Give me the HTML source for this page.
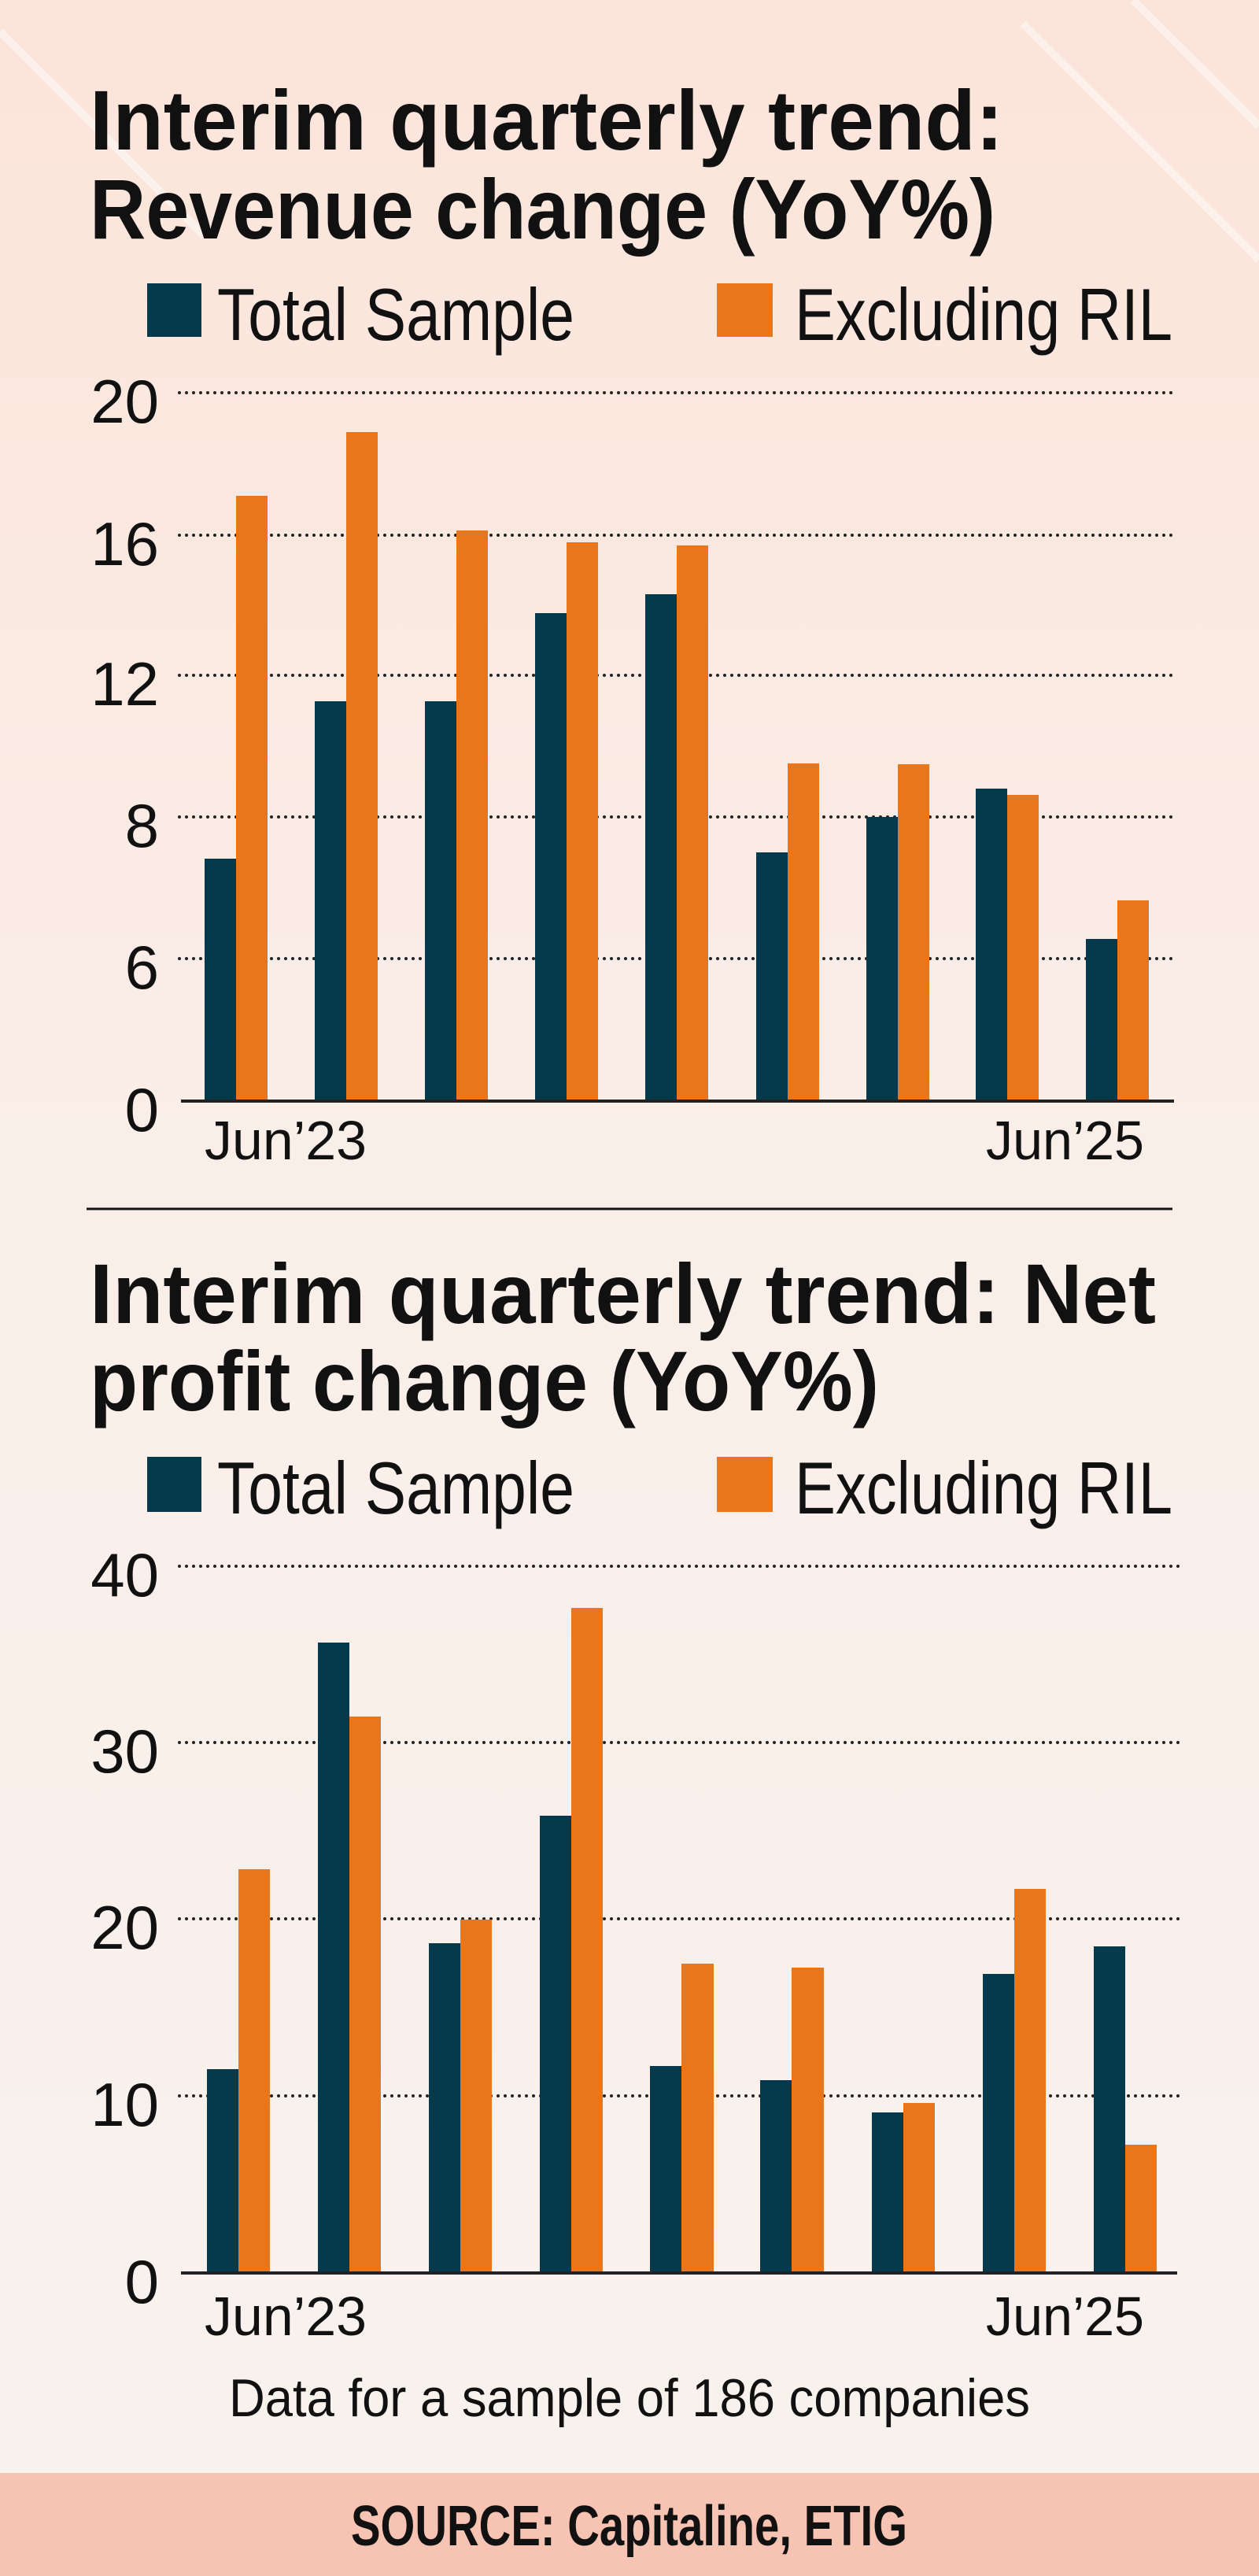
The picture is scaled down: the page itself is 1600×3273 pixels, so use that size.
<!DOCTYPE html>
<html><head><meta charset="utf-8"><style>
html,body{margin:0;padding:0;width:1600px;height:3273px;overflow:hidden;background:#faf1ec}
svg{display:block}
</style></head><body>
<svg width="1600" height="3273" viewBox="0 0 1600 3273" xmlns="http://www.w3.org/2000/svg" font-family="Liberation Sans, sans-serif">
<defs>
<linearGradient id="bg" x1="0" y1="0" x2="0" y2="1">
<stop offset="0" stop-color="#fbe4da"/><stop offset="0.45" stop-color="#faeee8"/><stop offset="1" stop-color="#f8f2ee"/>
</linearGradient>
</defs>
<rect width="1600" height="3273" fill="url(#bg)"/>
<g stroke="#fff" stroke-opacity="0.45" stroke-width="10" fill="none">
<path d="M1300 30 L1600 330"/><path d="M1440 0 L1600 160"/><path d="M0 40 L260 300"/>
</g>

<!-- Chart 1 -->
<g fill="#111" font-weight="bold">
<text x="114" y="190" font-size="108" textLength="1161" lengthAdjust="spacingAndGlyphs">Interim quarterly trend:</text>
<text x="114" y="303" font-size="108" textLength="1151" lengthAdjust="spacingAndGlyphs">Revenue change (YoY%)</text>
</g>
<rect x="187" y="360" width="69" height="68" fill="#053a4d"/>
<rect x="911" y="360" width="71" height="68" fill="#e8761c"/>
<g fill="#111" font-size="94">
<text x="276" y="432" textLength="454" lengthAdjust="spacingAndGlyphs">Total Sample</text>
<text x="1010" y="432" textLength="480" lengthAdjust="spacingAndGlyphs">Excluding RIL</text>
</g>
<g stroke="#222" stroke-width="4" stroke-dasharray="0 9" stroke-linecap="round">
<line x1="228" y1="499" x2="1492" y2="499"/>
<line x1="228" y1="680" x2="1492" y2="680"/>
<line x1="228" y1="858" x2="1492" y2="858"/>
<line x1="228" y1="1038" x2="1492" y2="1038"/>
<line x1="228" y1="1218" x2="1492" y2="1218"/>
</g>
<g fill="#111" font-size="78" text-anchor="end">
<text x="202" y="537">20</text>
<text x="202" y="718">16</text>
<text x="202" y="896">12</text>
<text x="202" y="1076">8</text>
<text x="202" y="1256">6</text>
<text x="202" y="1437">0</text>
</g>
<g fill="#053a4d">
<rect x="260" y="1091" width="40" height="308"/>
<rect x="400" y="891" width="40" height="508"/>
<rect x="540" y="891" width="40" height="508"/>
<rect x="680" y="779" width="40" height="620"/>
<rect x="820" y="755" width="40" height="644"/>
<rect x="961" y="1083" width="40" height="316"/>
<rect x="1101" y="1038" width="40" height="361"/>
<rect x="1240" y="1002" width="40" height="397"/>
<rect x="1380" y="1193" width="40" height="206"/>
</g>
<g fill="#e8761c">
<rect x="300" y="630" width="40" height="769"/>
<rect x="440" y="549" width="40" height="850"/>
<rect x="580" y="674" width="40" height="725"/>
<rect x="720" y="689" width="40" height="710"/>
<rect x="860" y="693" width="40" height="706"/>
<rect x="1001" y="970" width="40" height="429"/>
<rect x="1141" y="971" width="40" height="428"/>
<rect x="1280" y="1010" width="40" height="389"/>
<rect x="1420" y="1144" width="40" height="255"/>
</g>
<line x1="230" y1="1399" x2="1492" y2="1399" stroke="#222" stroke-width="4"/>
<g fill="#111" font-size="70">
<text x="260" y="1473" textLength="206" lengthAdjust="spacingAndGlyphs">Jun’23</text>
<text x="1253" y="1473" textLength="201" lengthAdjust="spacingAndGlyphs">Jun’25</text>
</g>

<line x1="110" y1="1536" x2="1490" y2="1536" stroke="#111" stroke-width="3"/>

<!-- Chart 2 -->
<g fill="#111" font-weight="bold">
<text x="114" y="1681" font-size="108" textLength="1355" lengthAdjust="spacingAndGlyphs">Interim quarterly trend: Net</text>
<text x="114" y="1792" font-size="108" textLength="1003" lengthAdjust="spacingAndGlyphs">profit change (YoY%)</text>
</g>
<rect x="187" y="1851" width="69" height="70" fill="#053a4d"/>
<rect x="911" y="1851" width="71" height="70" fill="#e8761c"/>
<g fill="#111" font-size="94">
<text x="276" y="1923" textLength="454" lengthAdjust="spacingAndGlyphs">Total Sample</text>
<text x="1010" y="1923" textLength="480" lengthAdjust="spacingAndGlyphs">Excluding RIL</text>
</g>
<g stroke="#222" stroke-width="4" stroke-dasharray="0 9" stroke-linecap="round">
<line x1="228" y1="1990" x2="1498" y2="1990"/>
<line x1="228" y1="2214" x2="1498" y2="2214"/>
<line x1="228" y1="2438" x2="1498" y2="2438"/>
<line x1="228" y1="2663" x2="1498" y2="2663"/>
</g>
<g fill="#111" font-size="78" text-anchor="end">
<text x="202" y="2028">40</text>
<text x="202" y="2252">30</text>
<text x="202" y="2476">20</text>
<text x="202" y="2701">10</text>
<text x="202" y="2926">0</text>
</g>
<g fill="#053a4d">
<rect x="263" y="2629" width="40" height="259"/>
<rect x="404" y="2087" width="40" height="801"/>
<rect x="545" y="2469" width="40" height="419"/>
<rect x="686" y="2307" width="40" height="581"/>
<rect x="826" y="2625" width="40" height="263"/>
<rect x="966" y="2643" width="40" height="245"/>
<rect x="1108" y="2684" width="40" height="204"/>
<rect x="1249" y="2508" width="40" height="380"/>
<rect x="1390" y="2473" width="40" height="415"/>
</g>
<g fill="#e8761c">
<rect x="303" y="2375" width="40" height="513"/>
<rect x="444" y="2181" width="40" height="707"/>
<rect x="585" y="2439" width="40" height="449"/>
<rect x="726" y="2043" width="40" height="845"/>
<rect x="866" y="2495" width="41" height="393"/>
<rect x="1006" y="2500" width="41" height="388"/>
<rect x="1148" y="2672" width="40" height="216"/>
<rect x="1289" y="2400" width="40" height="488"/>
<rect x="1430" y="2725" width="40" height="163"/>
</g>
<line x1="230" y1="2888" x2="1496" y2="2888" stroke="#222" stroke-width="4"/>
<g fill="#111" font-size="70">
<text x="260" y="2967" textLength="206" lengthAdjust="spacingAndGlyphs">Jun’23</text>
<text x="1253" y="2967" textLength="201" lengthAdjust="spacingAndGlyphs">Jun’25</text>
<text x="291" y="3070" font-size="68" textLength="1018" lengthAdjust="spacingAndGlyphs">Data for a sample of 186 companies</text>
</g>

<rect x="0" y="3142" width="1600" height="131" fill="#f7c3b2"/>
<text x="446" y="3234" font-size="72" font-weight="bold" fill="#111" textLength="707" lengthAdjust="spacingAndGlyphs">SOURCE: Capitaline, ETIG</text>
</svg>
</body></html>
